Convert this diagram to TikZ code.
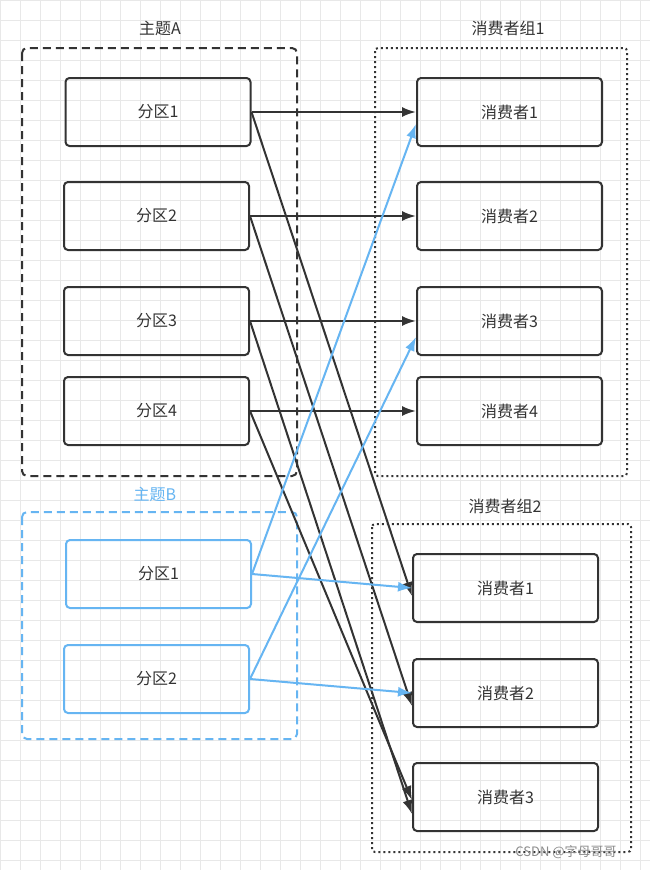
\documentclass[tikz,border=0pt]{standalone}
\usepackage{fontspec}
\setmainfont{Noto Sans CJK SC}
\usetikzlibrary{arrows.meta}
\definecolor{dk}{HTML}{333333}
\definecolor{bl}{HTML}{66B5F2}
\begin{document}
\begin{tikzpicture}[x=1pt,y=-1pt,
 box/.style={draw=dk,line width=2pt,rounded corners=4pt,minimum width=185pt,minimum height=68pt,inner sep=0pt,font=\fontsize{16}{18}\selectfont,text=dk},
 bbox/.style={box,draw=bl},
 ar/.style={draw=dk,line width=2pt,-{Latex[length=14pt,width=10pt]}},
 bar/.style={ar,draw=bl},
 lab/.style={font=\fontsize{16}{18}\selectfont,text=dk}]
\fill[white] (0,0) rectangle (650,870);
\useasboundingbox (0,0) rectangle (650,870);
\foreach \i in {0,20,...,860} {\draw[black!9,line width=0.5pt] (0,\i) -- (650,\i);}
\foreach \i in {0,20,...,640} {\draw[black!9,line width=0.5pt] (\i,0) -- (\i,870);}
% containers
\node[lab] (tA) at (160,28) {主题A};
\draw[dk,line width=2pt,dash pattern=on 8pt off 5pt,rounded corners=5pt] (22,48) rectangle (297,476);
\node[lab] (g1) at (508,28) {消费者组1};
\draw[dk,line width=2pt,dash pattern=on 2pt off 3pt,rounded corners=3pt] (375,48) rectangle (627,476);
\node[lab,text=bl] (tB) at (155,494) {主题B};
\draw[bl,line width=2pt,dash pattern=on 8pt off 5pt,rounded corners=5pt] (22,512) rectangle (297,739);
\node[lab] (g2) at (505,506) {消费者组2};
\draw[dk,line width=2pt,dash pattern=on 2pt off 3pt,rounded corners=3pt] (372,524) rectangle (631,852);
% nodes
\node[box] (a1) at (158,112) {分区1};
\node[box] (a2) at (156.5,216) {分区2};
\node[box] (a3) at (156.5,321) {分区3};
\node[box] (a4) at (156.5,411) {分区4};
\node[box] (c1) at (509.5,112) {消费者1};
\node[box] (c2) at (509.5,216) {消费者2};
\node[box] (c3) at (509.5,321) {消费者3};
\node[box] (c4) at (509.5,411) {消费者4};
\node[bbox] (b1) at (158.5,574) {分区1};
\node[bbox] (b2) at (156.5,679) {分区2};
\node[box] (d1) at (505.5,588) {消费者1};
\node[box] (d2) at (505.5,693) {消费者2};
\node[box] (d3) at (505.5,797) {消费者3};
% arrows
\draw[ar] (a1.east) -- (c1.west);
\draw[ar] (a2.east) -- (c2.west);
\draw[ar] (a3.east) -- (c3.west);
\draw[ar] (a4.east) -- (c4.west);
\draw[ar] (a1.east) -- ([yshift=-8pt]d1.west);
\draw[ar] (a2.east) -- ([yshift=-13pt]d2.west);
\draw[ar] (a3.east) -- ([yshift=-17pt]d3.west);
\draw[ar] (a4.east) -- ([yshift=-3pt]d3.west);
\draw[bar] (b1.east) -- ([yshift=-12pt]c1.west);
\draw[bar] (b1.east) -- (d1.west);
\draw[bar] (b2.east) -- ([yshift=-16pt]c3.west);
\draw[bar] (b2.east) -- (d2.west);
\node[font=\fontsize{13}{15}\selectfont,text=black!45] (wm) at (566,852) {CSDN @字母哥哥};
\end{tikzpicture}
\end{document}
